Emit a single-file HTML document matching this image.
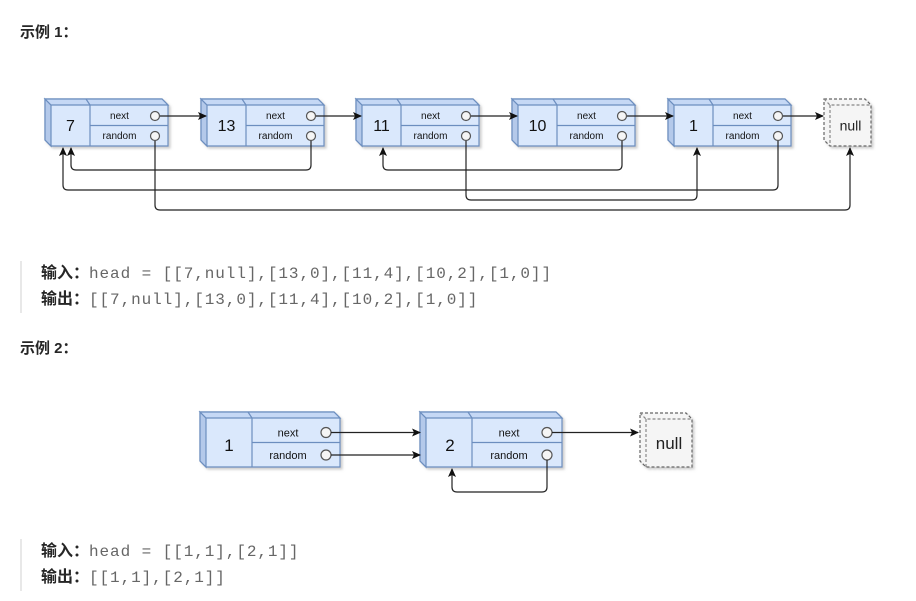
<!DOCTYPE html>
<html><head><meta charset="utf-8"><style>
body{margin:0;background:#fff;width:916px;height:601px;overflow:hidden;position:relative;font-family:"Liberation Sans","Noto Sans CJK SC",sans-serif}
.h{position:absolute;left:20px;font-weight:bold;font-size:15px;color:#262626}
.q{position:absolute;left:20px;border-left:2px solid #e8e8e8;padding-left:19px;font-size:16px;line-height:25px}
.q b{color:#262626}
.m{font-family:"Liberation Mono",monospace;color:#666;font-size:16px;letter-spacing:0.92px}
svg{position:absolute;left:0;top:0}
svg text{font-family:"Liberation Sans",sans-serif}
</style></head><body>
<div class="h" style="top:21px">示例 1：</div>
<div class="q" style="top:261px"><b>输入：</b><span class="m">head = [[7,null],[13,0],[11,4],[10,2],[1,0]]</span><br><b>输出：</b><span class="m">[[7,null],[13,0],[11,4],[10,2],[1,0]]</span></div>
<div class="h" style="top:337px">示例 2：</div>
<div class="q" style="top:539px"><b>输入：</b><span class="m">head = [[1,1],[2,1]]</span><br><b>输出：</b><span class="m">[[1,1],[2,1]]</span></div>
<svg width="916" height="601">
<defs>
<marker id="a" markerWidth="10" markerHeight="10" refX="8" refY="4" orient="auto" markerUnits="userSpaceOnUse"><path d="M0,0 L9,4 L0,8 L2,4 z" fill="#111"/></marker>
<filter id="s"><feDropShadow dx="2" dy="2" stdDeviation="1.2" flood-color="#999" flood-opacity="0.5"/></filter>
</defs>
<g stroke="#6c8ebf" stroke-width="1.2">
<g transform="translate(45,99)">
<path d="M0,0 L117,0 L123,6 L123,47 L6,47 L0,41z" fill="#dae8fc" filter="url(#s)"/>
<path d="M0,0 L6,6 L6,47 L0,41z" fill="#b4c9ea"/><path d="M0,0 L117,0 L123,6 L6,6z" fill="#c5d8f5"/>
<path d="M45,6 L45,47 M41,0 L45,6 M45,26.5 L123,26.5" fill="none"/>
<text x="25.5" y="32" text-anchor="middle" font-size="16" fill="#111" stroke="none">7</text>
<text x="74.5" y="20" text-anchor="middle" font-size="10" fill="#111" stroke="none">next</text>
<text x="74.5" y="40" text-anchor="middle" font-size="10" fill="#111" stroke="none">random</text>
<circle cx="110" cy="17" r="4.5" fill="#f5f5f5" stroke="#555"/><circle cx="110" cy="37" r="4.5" fill="#f5f5f5" stroke="#555"/>
</g>
<g transform="translate(201,99)">
<path d="M0,0 L117,0 L123,6 L123,47 L6,47 L0,41z" fill="#dae8fc" filter="url(#s)"/>
<path d="M0,0 L6,6 L6,47 L0,41z" fill="#b4c9ea"/><path d="M0,0 L117,0 L123,6 L6,6z" fill="#c5d8f5"/>
<path d="M45,6 L45,47 M41,0 L45,6 M45,26.5 L123,26.5" fill="none"/>
<text x="25.5" y="32" text-anchor="middle" font-size="16" fill="#111" stroke="none">13</text>
<text x="74.5" y="20" text-anchor="middle" font-size="10" fill="#111" stroke="none">next</text>
<text x="74.5" y="40" text-anchor="middle" font-size="10" fill="#111" stroke="none">random</text>
<circle cx="110" cy="17" r="4.5" fill="#f5f5f5" stroke="#555"/><circle cx="110" cy="37" r="4.5" fill="#f5f5f5" stroke="#555"/>
</g>
<g transform="translate(356,99)">
<path d="M0,0 L117,0 L123,6 L123,47 L6,47 L0,41z" fill="#dae8fc" filter="url(#s)"/>
<path d="M0,0 L6,6 L6,47 L0,41z" fill="#b4c9ea"/><path d="M0,0 L117,0 L123,6 L6,6z" fill="#c5d8f5"/>
<path d="M45,6 L45,47 M41,0 L45,6 M45,26.5 L123,26.5" fill="none"/>
<text x="25.5" y="32" text-anchor="middle" font-size="16" fill="#111" stroke="none">11</text>
<text x="74.5" y="20" text-anchor="middle" font-size="10" fill="#111" stroke="none">next</text>
<text x="74.5" y="40" text-anchor="middle" font-size="10" fill="#111" stroke="none">random</text>
<circle cx="110" cy="17" r="4.5" fill="#f5f5f5" stroke="#555"/><circle cx="110" cy="37" r="4.5" fill="#f5f5f5" stroke="#555"/>
</g>
<g transform="translate(512,99)">
<path d="M0,0 L117,0 L123,6 L123,47 L6,47 L0,41z" fill="#dae8fc" filter="url(#s)"/>
<path d="M0,0 L6,6 L6,47 L0,41z" fill="#b4c9ea"/><path d="M0,0 L117,0 L123,6 L6,6z" fill="#c5d8f5"/>
<path d="M45,6 L45,47 M41,0 L45,6 M45,26.5 L123,26.5" fill="none"/>
<text x="25.5" y="32" text-anchor="middle" font-size="16" fill="#111" stroke="none">10</text>
<text x="74.5" y="20" text-anchor="middle" font-size="10" fill="#111" stroke="none">next</text>
<text x="74.5" y="40" text-anchor="middle" font-size="10" fill="#111" stroke="none">random</text>
<circle cx="110" cy="17" r="4.5" fill="#f5f5f5" stroke="#555"/><circle cx="110" cy="37" r="4.5" fill="#f5f5f5" stroke="#555"/>
</g>
<g transform="translate(668,99)">
<path d="M0,0 L117,0 L123,6 L123,47 L6,47 L0,41z" fill="#dae8fc" filter="url(#s)"/>
<path d="M0,0 L6,6 L6,47 L0,41z" fill="#b4c9ea"/><path d="M0,0 L117,0 L123,6 L6,6z" fill="#c5d8f5"/>
<path d="M45,6 L45,47 M41,0 L45,6 M45,26.5 L123,26.5" fill="none"/>
<text x="25.5" y="32" text-anchor="middle" font-size="16" fill="#111" stroke="none">1</text>
<text x="74.5" y="20" text-anchor="middle" font-size="10" fill="#111" stroke="none">next</text>
<text x="74.5" y="40" text-anchor="middle" font-size="10" fill="#111" stroke="none">random</text>
<circle cx="110" cy="17" r="4.5" fill="#f5f5f5" stroke="#555"/><circle cx="110" cy="37" r="4.5" fill="#f5f5f5" stroke="#555"/>
</g>
<g transform="translate(824,99)">
<path d="M0,0 L41,0 L47,6 L47,47 L6,47 L0,41z" fill="#f5f5f5" stroke="#666" stroke-dasharray="3,2" filter="url(#s)"/>
<path d="M0,0 L6,6 L47,6 M6,6 L6,47" fill="none" stroke="#888" stroke-dasharray="3,2"/>
<text x="26.5" y="31.5" text-anchor="middle" font-size="14" fill="#222" stroke="none">null</text>
</g>
<g transform="translate(200,412)">
<path d="M0,0 L134,0 L140,6 L140,55 L6,55 L0,49z" fill="#dae8fc" filter="url(#s)"/>
<path d="M0,0 L6,6 L6,55 L0,49z" fill="#b4c9ea"/><path d="M0,0 L134,0 L140,6 L6,6z" fill="#c5d8f5"/>
<path d="M52,6 L52,55 M48,0 L52,6 M52,30.5 L140,30.5" fill="none"/>
<text x="29" y="39" text-anchor="middle" font-size="17" fill="#111" stroke="none">1</text>
<text x="88" y="24.5" text-anchor="middle" font-size="11" fill="#111" stroke="none">next</text>
<text x="88" y="47" text-anchor="middle" font-size="11" fill="#111" stroke="none">random</text>
<circle cx="126" cy="20.5" r="5" fill="#f5f5f5" stroke="#555"/><circle cx="126" cy="43" r="5" fill="#f5f5f5" stroke="#555"/>
</g>
<g transform="translate(420,412)">
<path d="M0,0 L136,0 L142,6 L142,55 L6,55 L0,49z" fill="#dae8fc" filter="url(#s)"/>
<path d="M0,0 L6,6 L6,55 L0,49z" fill="#b4c9ea"/><path d="M0,0 L136,0 L142,6 L6,6z" fill="#c5d8f5"/>
<path d="M52,6 L52,55 M48,0 L52,6 M52,30.5 L142,30.5" fill="none"/>
<text x="30" y="39" text-anchor="middle" font-size="17" fill="#111" stroke="none">2</text>
<text x="89" y="24.5" text-anchor="middle" font-size="11" fill="#111" stroke="none">next</text>
<text x="89" y="47" text-anchor="middle" font-size="11" fill="#111" stroke="none">random</text>
<circle cx="127" cy="20.5" r="5" fill="#f5f5f5" stroke="#555"/><circle cx="127" cy="43" r="5" fill="#f5f5f5" stroke="#555"/>
</g>
<g transform="translate(640,413)">
<path d="M0,0 L46,0 L52,6 L52,54 L6,54 L0,48z" fill="#f5f5f5" stroke="#666" stroke-dasharray="3,2" filter="url(#s)"/>
<path d="M0,0 L6,6 L52,6 M6,6 L6,54" fill="none" stroke="#888" stroke-dasharray="3,2"/>
<text x="29" y="36" text-anchor="middle" font-size="17" fill="#222" stroke="none">null</text>
</g>
</g>
<g fill="none" stroke="#222" stroke-width="1.2" marker-end="url(#a)">
<path d="M160,116 L206,116"/>
<path d="M316,116 L361,116"/>
<path d="M471,116 L517,116"/>
<path d="M627,116 L673,116"/>
<path d="M783,116 L823,116"/>
<path d="M155,141 L155,205 Q155,210 160,210 L845,210 Q850,210 850,205 L850,148"/>
<path d="M311,141 L311,165 Q311,170 306,170 L76,170 Q71,170 71,165 L71,148"/>
<path d="M778,141 L778,185 Q778,190 773,190 L68,190 Q63,190 63,185 L63,148"/>
<path d="M466,141 L466,195 Q466,200 471,200 L692,200 Q697,200 697,195 L697,148"/>
<path d="M622,141 L622,165 Q622,170 617,170 L388,170 Q383,170 383,165 L383,148"/>
<path d="M331,432.5 L420,432.5"/>
<path d="M331,455 L420,455"/>
<path d="M552,432.5 L638,432.5"/>
<path d="M547,460 L547,487 Q547,492 542,492 L457,492 Q452,492 452,487 L452,469"/>
</g>
</svg>
</body></html>
